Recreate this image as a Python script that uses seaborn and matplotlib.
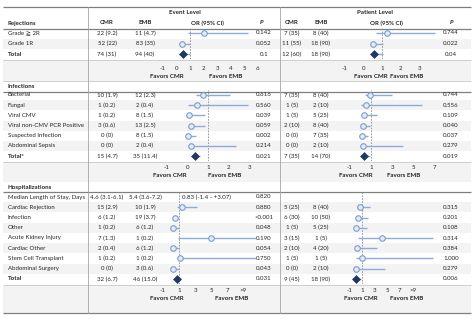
import matplotlib
matplotlib.use("Agg")
import matplotlib.pyplot as plt
import numpy as np
import pandas as pd
import seaborn as sns

sns.set_theme(style="white")
plt.rcParams["font.family"] = ["Lato", "DejaVu Sans"]

# ---------------- data ----------------
# Rejections
rej_labels = ["Grade \u2267 2R", "Grade 1R", "Total"]
rej_ev_cmr = ["22 (9.2)", "52 (22)", "74 (31)"]
rej_ev_emb = ["11 (4.7)", "83 (35)", "94 (40)"]
rej_ev_p = ["0.142", "0.052", "0.1"]
rej_pt_cmr = ["7 (35)", "11 (55)", "12 (60)"]
rej_pt_emb = ["8 (40)", "18 (90)", "18 (90)"]
rej_pt_p = ["0.744", "0.022", "0.04"]
rej_ev_or = [2.0, 0.4, 0.45]
rej_ev_lo = [0.85, 0.15, 0.15]
rej_ev_hi = [5.3, 1.0, 1.02]
rej_pt_or = [1.27, 0.5, 0.55]
rej_pt_lo = [0.68, 0.4, 0.4]
rej_pt_hi = [3.86, 1.05, 1.05]

# Infections
inf_labels = ["Bacterial", "Fungal", "Viral CMV", "Viral non-CMV PCR Positive",
              "Suspected Infection", "Abdominal Sepsis", "Total*"]
inf_ev_cmr = ["10 (1.9)", "1 (0.2)", "1 (0.2)", "3 (0.6)", "0 (0)", "0 (0)", "15 (4.7)"]
inf_ev_emb = ["12 (2.3)", "2 (0.4)", "8 (1.5)", "13 (2.5)", "8 (1.5)", "2 (0.4)", "35 (11.4)"]
inf_ev_p = ["0.616", "0.560", "0.039", "0.059", "0.002", "0.214", "0.021"]
inf_pt_cmr = ["7 (35)", "1 (5)", "1 (5)", "2 (10)", "0 (0)", "0 (0)", "7 (35)"]
inf_pt_emb = ["8 (40)", "2 (10)", "5 (25)", "8 (40)", "7 (35)", "2 (10)", "14 (70)"]
inf_pt_p = ["0.744", "0.556", "0.109", "0.040", "0.037", "0.279", "0.019"]
inf_ev_or = [0.76, 0.46, 0.07, 0.15, 0.03, 0.17, 0.37]
inf_ev_lo = [0.4, 0.03, 0.02, 0.07, 0.02, 0.07, 0.22]
inf_ev_hi = [2.07, 2.95, 0.85, 0.85, 0.4, 2.37, 0.6]
inf_pt_or = [0.9, 0.5, 0.3, 0.25, 0.15, 0.25, 0.35]
inf_pt_lo = [0.4, 0.0, 0.1, 0.05, 0.02, 0.02, 0.05]
inf_pt_hi = [3.0, 5.9, 1.6, 0.9, 0.7, 4.0, 0.9]

# Hospitalizations
hos_labels = ["Median Length of Stay, Days", "Cardiac Rejection", "Infection", "Other",
              "Acute Kidney Injury", "Cardiac Other", "Stem Cell Transplant",
              "Abdominal Surgery", "Total"]
hos_ev_cmr = ["4.6 (3.1-6.1)", "15 (2.9)", "6 (1.2)", "1 (0.2)", "7 (1.3)", "2 (0.4)",
              "1 (0.2)", "0 (0)", "32 (6.7)"]
hos_ev_emb = ["5.4 (3.6-7.2)", "10 (1.9)", "19 (3.7)", "6 (1.2)", "1 (0.2)", "6 (1.2)",
              "1 (0.2)", "3 (0.6)", "46 (15.0)"]
hos_ev_p = ["0.820", "0.880", "<0.001", "0.048", "0.190", "0.054", "0.750", "0.043", "0.031"]
hos_pt_cmr = ["", "5 (25)", "6 (30)", "1 (5)", "3 (15)", "2 (10)", "1 (5)", "0 (0)", "9 (45)"]
hos_pt_emb = ["", "8 (40)", "10 (50)", "5 (25)", "1 (5)", "4 (20)", "1 (5)", "2 (10)", "18 (90)"]
hos_pt_p = ["", "0.315", "0.201", "0.108", "0.314", "0.384", "1.000", "0.279", "0.006"]
hos_los_diff = "0.83 (-1.4 - +3.07)"
hos_ev_or = [np.nan, 1.4, 0.5, 0.25, 5.0, 0.3, 1.1, 0.2, 0.7]
hos_ev_lo = [np.nan, 0.75, 0.3, 0.05, 0.9, 0.1, 0.75, 0.05, 0.5]
hos_ev_hi = [np.nan, 3.25, 0.8, 0.95, 11.5, 1.0, 15.0, 0.95, 0.97]
hos_pt_or = [np.nan, 0.7, 0.4, 0.05, 4.2, 0.2, 1.0, 0.0, 0.1]
hos_pt_lo = [np.nan, 0.2, 0.1, 0.0, 0.3, 0.05, 0.0, 0.0, 0.02]
hos_pt_hi = [np.nan, 2.3, 2.0, 1.8, 12.3, 3.4, 12.3, 4.7, 0.9]

# axis ticks per panel
rej_ev_ticks = [-1, 0, 1, 2, 3, 4, 5, 6]
rej_pt_ticks = [-1, 0, 1, 2, 3]
inf_ev_ticks = [-1, 0, 1, 2, 3]
inf_pt_ticks = [-1, 1, 3, 5, 7]
hos_ev_ticks = [-1, 1, 3, 5, 7, 9]
hos_pt_ticks = [-1, 1, 3, 5, 7, 9]
hos_tick_labels = ["-1", "1", "3", "5", "7", ">9"]

# ---------------- styling ----------------
W, H = 474, 321
FS = 4.4
TXT = "#262626"
RULE_DARK = "#7f7f7f"
RULE_LIGHT = "#c8c8c8"
CI_COL = "#8eaadb"
PT_FACE = "#e3ebf6"
PT_EDGE = "#7d9ccc"
NAVY = "#1f3864"
SHADE = "#f3f3f3"

LABEL_X = 8
CMR_X, EMB_X, EP_X = 107, 145, 264
PCMR_X, PEMB_X, PP_X = 292, 321, 451
EV_X0, EV_X1 = 150, 259
PT_X0, PT_X1 = 335, 440

fig = plt.figure(figsize=(W / 100, H / 100), dpi=100)
bg = fig.add_axes([0, 0, 1, 1])
bg.set_xlim(0, W)
bg.set_ylim(H, 0)
bg.axis("off")


def txt(x, y, s, ha="center", bold=False, italic=False, size=FS):
    bg.text(x, y, s, ha=ha, va="center", fontsize=size, color=TXT,
            fontweight="bold" if bold else "normal",
            fontstyle="italic" if italic else "normal")


def hrule(y, color, lw):
    bg.plot([3, 471], [y, y], color=color, lw=lw, solid_capstyle="butt")


def px_axes(x0, x1, y0, y1):
    return fig.add_axes([x0 / W, 1 - y1 / H, (x1 - x0) / W, (y1 - y0) / H])


def forest(x0, x1, y0, y1, one_px, ppu, ticks, ticklabels, orv, lo, hi, pad):
    n = len(orv)
    ax = px_axes(x0, x1, y0, y1)
    ax.set_xlim(1 + (x0 - one_px) / ppu, 1 + (x1 - one_px) / ppu)
    ax.set_ylim(n - 0.5, -0.5)
    df = pd.DataFrame({"row": np.arange(n), "or": orv, "lo": lo, "hi": hi})
    df["kind"] = np.where(df["row"] == n - 1, "total", "item")
    d = df.dropna()
    ax.axvline(1, color="#8c8c8c", lw=0.6, ls=(0, (2, 1.5)), zorder=1)
    ax.hlines(d["row"], d["lo"], d["hi"], color=CI_COL, lw=1.0, zorder=2)
    sns.scatterplot(data=d[d["kind"] == "item"], x="or", y="row", marker="o", s=16,
                    color=PT_FACE, edgecolor=PT_EDGE, linewidth=0.8, zorder=3,
                    legend=False, ax=ax)
    sns.scatterplot(data=d[d["kind"] == "total"], x="or", y="row", marker="D", s=16,
                    color=NAVY, edgecolor=NAVY, linewidth=0.5, zorder=3,
                    legend=False, ax=ax)
    ax.set_xticks(ticks)
    ax.set_xticklabels(ticklabels)
    ax.tick_params(axis="x", length=0, pad=pad, labelsize=FS, colors=TXT)
    ax.set_yticks([])
    ax.set_xlabel("")
    ax.set_ylabel("")
    for s in ax.spines.values():
        s.set_visible(False)
    ax.patch.set_alpha(0)
    return ax


def section(rows_y, labels, ev_cmr, ev_emb, ev_p, pt_cmr, pt_emb, pt_p):
    for i, y in enumerate(rows_y):
        if i % 2 == 1:
            bg.add_patch(plt.Rectangle((3, y - 5), 468, 10, color=SHADE, lw=0, zorder=0))
        last = i == len(rows_y) - 1
        txt(LABEL_X, y, labels[i], ha="left", bold=last)
        txt(CMR_X, y, ev_cmr[i])
        txt(EMB_X, y, ev_emb[i])
        txt(EP_X, y, ev_p[i])
        txt(PCMR_X, y, pt_cmr[i])
        txt(PEMB_X, y, pt_emb[i])
        txt(PP_X, y, pt_p[i])


# footer bands holding the axes
for ya, yb in [(59.5, 81), (161.5, 182), (284.5, 313)]:
    bg.add_patch(plt.Rectangle((3, ya), 468, yb - ya, color=SHADE, lw=0, zorder=0))

# header
txt(185, 12.5, "Event Level", bold=True)
txt(375, 12.5, "Patient Level", bold=True)
txt(LABEL_X, 23, "Rejections", ha="left", bold=True)
for x, s in [(CMR_X, "CMR"), (EMB_X, "EMB"), (207, "OR (95% CI)"),
             (PCMR_X, "CMR"), (PEMB_X, "EMB"), (386, "OR (95% CI)")]:
    txt(x, 23, s, bold=True)
txt(EP_X - 2, 23, "P", bold=True, italic=True)
txt(PP_X + 1, 23, "P", bold=True, italic=True)

rej_y = [33 + 10.5 * i for i in range(3)]
inf_y = [95 + 10.17 * i for i in range(7)]
hos_y = [197 + 10.25 * i for i in range(9)]

section(rej_y, rej_labels, rej_ev_cmr, rej_ev_emb, rej_ev_p, rej_pt_cmr, rej_pt_emb, rej_pt_p)
txt(LABEL_X, 86, "Infections", ha="left", bold=True)
section(inf_y, inf_labels, inf_ev_cmr, inf_ev_emb, inf_ev_p, inf_pt_cmr, inf_pt_emb, inf_pt_p)
txt(LABEL_X, 187, "Hospitalizations", ha="left", bold=True)
section(hos_y, hos_labels, hos_ev_cmr, hos_ev_emb, hos_ev_p, hos_pt_cmr, hos_pt_emb, hos_pt_p)
txt(206, hos_y[0], hos_los_diff)

# favors labels under each axis
for yf, ev_c, ev_e, pt_c, pt_e in [(76.5, 167, 226, 371, 407),
                                   (175.5, 170, 225, 356, 404),
                                   (298, 167, 232, 361, 407)]:
    txt(ev_c, yf, "Favors CMR", bold=True)
    txt(ev_e, yf, "Favors EMB", bold=True)
    txt(pt_c, yf, "Favors CMR", bold=True)
    txt(pt_e, yf, "Favors EMB", bold=True)

# table rules
hrule(7, RULE_DARK, 0.9)
hrule(29, RULE_DARK, 0.9)
hrule(59.5, RULE_LIGHT, 0.6)
hrule(81, RULE_LIGHT, 0.6)
hrule(91.5, RULE_DARK, 0.9)
hrule(161.5, RULE_LIGHT, 0.6)
hrule(192, RULE_DARK, 0.9)
hrule(284.5, RULE_LIGHT, 0.6)
hrule(313, RULE_DARK, 0.9)
for xv in (88, 280):
    bg.plot([xv, xv], [7, 313], color="#a6a6a6", lw=0.6)

# forest panels
r0, r1 = rej_y[0] - 5.25, rej_y[-1] + 5.25
i0, i1 = inf_y[0] - 5.1, inf_y[-1] + 5.1
h0, h1 = hos_y[0] - 5.1, hos_y[-1] + 5.1

forest(EV_X0, EV_X1, r0, r1, 190, 13.5, rej_ev_ticks, [str(t) for t in rej_ev_ticks],
       rej_ev_or, rej_ev_lo, rej_ev_hi, pad=4.5)
forest(PT_X0, PT_X1, r0, r1, 382, 18.5, rej_pt_ticks, [str(t) for t in rej_pt_ticks],
       rej_pt_or, rej_pt_lo, rej_pt_hi, pad=4.5)
forest(EV_X0, EV_X1 - 4, i0, i1, 208, 20.5, inf_ev_ticks, [str(t) for t in inf_ev_ticks],
       inf_ev_or, inf_ev_lo, inf_ev_hi, pad=2.5)
forest(PT_X0, PT_X1, i0, i1, 371, 10.5, inf_pt_ticks, [str(t) for t in inf_pt_ticks],
       inf_pt_or, inf_pt_lo, inf_pt_hi, pad=2.5)
forest(EV_X0, EV_X1 - 3, h0, h1, 179, 8.0, hos_ev_ticks, hos_tick_labels,
       hos_ev_or, hos_ev_lo, hos_ev_hi, pad=2.5)
forest(PT_X0, PT_X1, h0, h1, 362, 6.3, hos_pt_ticks, hos_tick_labels,
       hos_pt_or, hos_pt_lo, hos_pt_hi, pad=2.5)

fig.savefig("out.png", dpi=100, facecolor="white")
